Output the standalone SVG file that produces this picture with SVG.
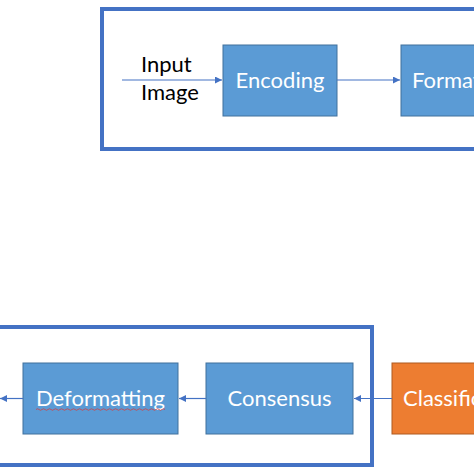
<svg xmlns="http://www.w3.org/2000/svg" width="474" height="474" viewBox="0 0 474 474">
<style>
.frame{fill:none;stroke:#4472C4;stroke-width:4}
.box{fill:#5B9BD5;stroke:#41719C;stroke-width:1}
.obox{fill:#ED7D31;stroke:#AE5A21;stroke-width:1}
.lbl{font-family:Lato,"Open Sans",sans-serif;font-size:22px;fill:#ffffff}
.plain{font-family:Lato,"Open Sans",sans-serif;font-size:22px;fill:#000000}
.conn{stroke:#4472C4;stroke-width:1.2;fill:none}
</style>
<defs>
<marker id="ah" viewBox="0 0 10 10" refX="10" refY="5" markerWidth="7" markerHeight="7" markerUnits="userSpaceOnUse" orient="auto">
<path d="M0,0 L10,5 L0,10 z" fill="#4472C4"/>
</marker>
</defs>
<rect class="frame" x="102" y="9" width="380" height="140"/>
<rect class="frame" x="-10" y="327" width="382" height="138"/>
<g id="input"><text class="plain" x="141" y="72">Input</text><text class="plain" x="141" y="100">Image</text></g>
<g id="encoding"><rect class="box" x="223" y="45" width="114" height="71"/><text class="lbl" x="280" y="88" text-anchor="middle">Encoding</text></g>
<g id="formatting"><rect class="box" x="401" y="45" width="120" height="71"/><text class="lbl" x="412" y="88">Formatting</text></g>
<g id="classification"><rect class="obox" x="392" y="363" width="120" height="71"/><text class="lbl" x="403" y="406">Classification</text></g>
<g id="consensus"><rect class="box" x="206" y="363" width="147" height="71"/><text class="lbl" x="279.5" y="406" text-anchor="middle">Consensus</text></g>
<g id="deformatting"><rect class="box" x="23" y="363" width="155" height="71"/><text class="lbl" x="100.5" y="406" text-anchor="middle">Deformatting</text>
<path d="M36,409.5 q1.5,-1.5 3,0 t3,0 t3,0 t3,0 t3,0 t3,0 t3,0 t3,0 t3,0 t3,0 t3,0 t3,0 t3,0 t3,0 t3,0 t3,0 t3,0 t3,0 t3,0 t3,0 t3,0 t3,0 t3,0 t3,0 t3,0 t3,0 t3,0 t3,0 t3,0 t3,0 t3,0 t3,0 t3,0 t3,0 t3,0 t3,0 t3,0 t3,0 t3,0 t3,0 t3,0 t3,0 t3,0" fill="none" stroke="#D04040" stroke-width="0.8"/></g>
<g id="connectors">
<line class="conn" x1="122" y1="80" x2="222" y2="80" marker-end="url(#ah)"/>
<line class="conn" x1="337" y1="80" x2="400" y2="80" marker-end="url(#ah)"/>
<line class="conn" x1="392" y1="398.5" x2="354" y2="398.5" marker-end="url(#ah)"/>
<line class="conn" x1="206" y1="398.5" x2="179" y2="398.5" marker-end="url(#ah)"/>
<line class="conn" x1="23" y1="398.5" x2="0" y2="398.5" marker-end="url(#ah)"/>
</g>
</svg>
